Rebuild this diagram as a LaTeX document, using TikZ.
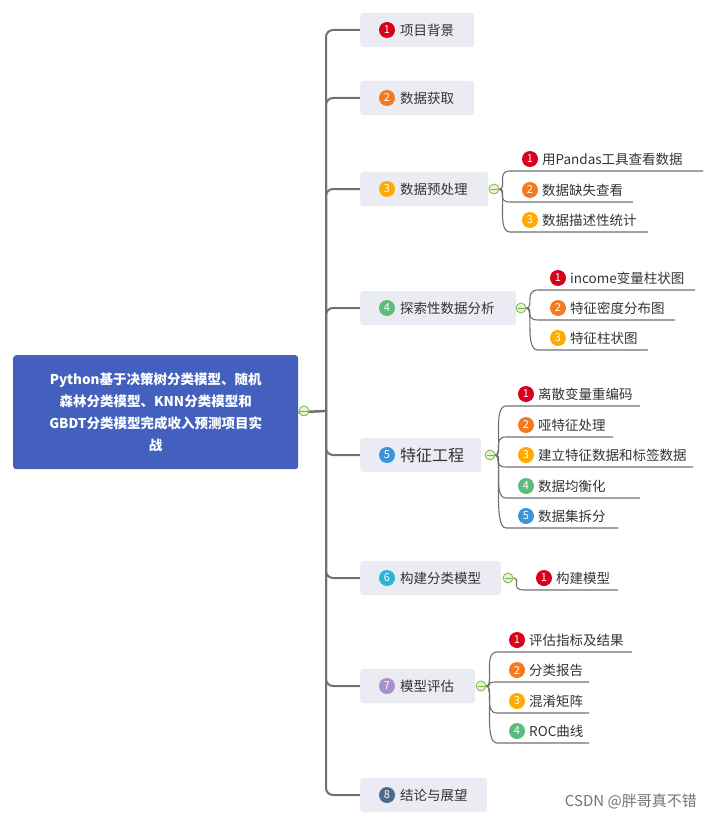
\documentclass[tikz,border=0pt]{standalone}
\usepackage{fontspec}
\setmainfont{Noto Sans CJK SC}
\begin{document}
\begin{tikzpicture}[x=1pt,y=-1pt,
  box/.style={fill=boxgray,rounded corners=3pt,inner sep=0pt,anchor=west,minimum height=34pt},
  badge/.style={circle,inner sep=0pt,minimum size=16pt,text=white,font=\fontsize{11}{11}\selectfont},
  lbl/.style={anchor=west,inner sep=0pt,font=\fontsize{13.5}{15}\selectfont,text=txt},
  knob/.style={circle,draw=knobg,fill=knobf,line width=0.8pt,minimum size=10pt,inner sep=0pt},
  conn/.style={draw=lineg,line width=1.1pt},
  trunk/.style={draw=lineg,line width=2pt,rounded corners=7pt}]
\definecolor{boxgray}{HTML}{EBEBF3}
\definecolor{txt}{HTML}{333333}
\definecolor{lineg}{HTML}{707070}
\definecolor{knobg}{HTML}{7AB648}
\definecolor{knobf}{HTML}{E4F2D6}
\definecolor{cA}{HTML}{D9001B}
\definecolor{cB}{HTML}{F47A20}
\definecolor{cC}{HTML}{FFAA00}
\definecolor{cD}{HTML}{5DBB7D}
\definecolor{cE}{HTML}{3C95D8}
\definecolor{cF}{HTML}{2BB5D0}
\definecolor{cG}{HTML}{A890CC}
\definecolor{cH}{HTML}{4E6A8A}
\definecolor{rootc}{HTML}{4360BE}
\useasboundingbox (0,0) rectangle (711,821);
% root
\node[fill=rootc,rounded corners=3pt,minimum width=285pt,minimum height=114pt,anchor=north west,
  align=center,text=white,font=\bfseries\fontsize{13.5}{22}\selectfont] (root) at (13,355)
  {Python基于决策树分类模型、随机\\森林分类模型、KNN分类模型和\\GBDT分类模型完成收入预测项目实\\战};
\coordinate (tj) at (326,411);
\newcommand\mmmain[6]{% name, y, width, num, color, text
  \node[box,minimum width=#3pt] (#1) at (360,#2) {};
  \node[badge,fill=#5] (#1-b) at (387,#2) {#4};
  \node[lbl] (#1-t) at (400,#2) {#6};
  \draw[trunk] (tj) |- (#1.west);}
\newcommand\mmsub[8]{% name, parent, startx, liney, endx, num, color, text
  \coordinate (#1-s) at (#3,#4);
  \coordinate (#1-e) at (#5,#4);
  \draw[conn] (#2.east) .. controls +(8,0) and +(-14,0) .. (#1-s) -- (#1-e);
  \node[badge,fill=#7] (#1-b) at (#3+20,#4-12) {#6};
  \node[lbl] (#1-t) at (#3+32,#4-12) {#8};}
\draw[conn,line width=2.5pt] (root.east) -- (tj);
\node[knob] (rk) at (304,411) {};
\draw[line width=1pt,knobg] (300,411) -- (308,411);
\mmmain{m1}{30}{114}{1}{cA}{项目背景}
\mmmain{m2}{98}{114}{2}{cB}{数据获取}
\mmmain{m3}{189}{128}{3}{cC}{数据预处理}
\mmmain{m4}{308}{156}{4}{cD}{探索性数据分析}
\node[box,minimum width=121pt] (m5) at (360,455) {};
\node[badge,fill=cE] (m5-b) at (387,455) {5};
\node[lbl,font=\fontsize{16}{18}\selectfont] (m5-t) at (400,455) {特征工程};
\draw[trunk] (tj) |- (m5.west);
\mmmain{m6}{578}{141}{6}{cF}{构建分类模型}
\mmmain{m7}{686}{115}{7}{cG}{模型评估}
\mmmain{m8}{795}{127}{8}{cH}{结论与展望}
\node[knob] (k3) at (494,189) {};
\node[knob] (k4) at (521,308) {};
\node[knob] (k5) at (490,455) {};
\node[knob] (k6) at (508,578) {};
\node[knob] (k7) at (481,686) {};
\foreach \k/\x/\y in {k3/494/189,k4/521/308,k5/490/455,k6/508/578,k7/481/686}
  \draw[knobg,line width=1pt] (\x-3.5,\y) -- (\x+3.5,\y);
\mmsub{s31}{k3}{510}{171}{703}{1}{cA}{用Pandas工具查看数据}
\mmsub{s32}{k3}{510}{202}{633}{2}{cB}{数据缺失查看}
\mmsub{s33}{k3}{510}{232}{648}{3}{cC}{数据描述性统计}
\mmsub{s41}{k4}{538}{290}{695}{1}{cA}{income变量柱状图}
\mmsub{s42}{k4}{538}{320}{675}{2}{cB}{特征密度分布图}
\mmsub{s43}{k4}{538}{350}{648}{3}{cC}{特征柱状图}
\mmsub{s51}{k5}{506}{406}{640}{1}{cA}{离散变量重编码}
\mmsub{s52}{k5}{506}{437}{613}{2}{cB}{哑特征处理}
\mmsub{s53}{k5}{506}{467}{693}{3}{cC}{建立特征数据和标签数据}
\mmsub{s54}{k5}{506}{498}{640}{4}{cD}{数据均衡化}
\mmsub{s55}{k5}{506}{528}{618}{5}{cE}{数据集拆分}
\mmsub{s61}{k6}{524}{590}{618}{1}{cA}{构建模型}
\mmsub{s71}{k7}{497}{652}{632}{1}{cA}{评估指标及结果}
\mmsub{s72}{k7}{497}{682}{589}{2}{cB}{分类报告}
\mmsub{s73}{k7}{497}{713}{589}{3}{cC}{混淆矩阵}
\mmsub{s74}{k7}{497}{743}{589}{4}{cD}{ROC曲线}
\node[anchor=east,inner sep=0pt,text=black!55,font=\fontsize{15}{16}\selectfont] (wm) at (697,801) {CSDN @胖哥真不错};
\end{tikzpicture}
\end{document}
